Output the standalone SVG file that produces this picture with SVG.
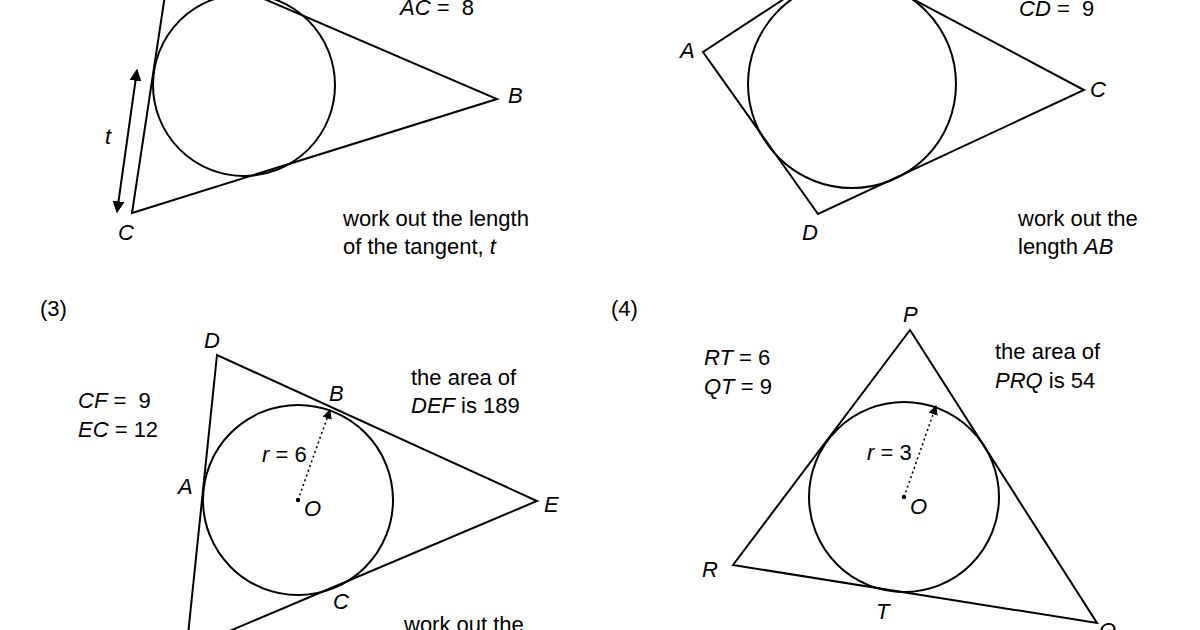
<svg xmlns="http://www.w3.org/2000/svg" width="1200" height="630" viewBox="0 0 1200 630">
<defs>
<marker id="ah" viewBox="0 0 10 10" refX="9" refY="5" markerWidth="6" markerHeight="6" orient="auto-start-reverse"><path d="M0,0 L10,5 L0,10 z" fill="#000"/></marker>
</defs>
<style>
.s{fill:none;stroke:#000;stroke-width:2}
text{font-family:"Liberation Sans",Arial,sans-serif;font-size:22px;fill:#000;white-space:pre}
.i{font-style:italic}
</style>
<rect width="1200" height="630" fill="#fff"/>
<g id="fig1">
<circle class="s" cx="244" cy="85" r="91"/>
<polyline class="s" points="165,-5 132,213 497,99 255,-5"/>
<line class="s" x1="117" y1="212" x2="137" y2="70" marker-start="url(#ah)" marker-end="url(#ah)" stroke-width="1.6"/>
<text x="105" y="144" class="i">t</text>
<text x="118" y="240" class="i">C</text>
<text x="508" y="103" class="i">B</text>
<text x="400" y="15"><tspan class="i">AC</tspan> =  8</text>
<text x="343" y="226">work out the length</text>
<text x="343" y="254">of the tangent, <tspan class="i">t</tspan></text>
</g>
<g id="fig2">
<ellipse class="s" cx="852" cy="84" rx="104" ry="104"/>
<polyline class="s" points="790,-5 703,52 818,214 1084,90 905,-5"/>
<text x="680" y="58" class="i">A</text>
<text x="1090" y="97" class="i">C</text>
<text x="802" y="240" class="i">D</text>
<text x="1019" y="16"><tspan class="i">CD</tspan> =  9</text>
<text x="1018" y="226">work out the</text>
<text x="1018" y="254">length <tspan class="i">AB</tspan></text>
</g>
<g id="fig3">
<text x="40" y="316">(3)</text>
<circle class="s" cx="298" cy="500" r="95"/>
<polyline class="s" points="188,635 217,355 537,501 220,635"/>
<line x1="298" y1="500" x2="330" y2="410" stroke="#000" stroke-width="1.6" stroke-dasharray="2,3" marker-end="url(#ah)"/>
<circle cx="298" cy="500" r="2.2"/>
<text x="304" y="516" class="i">O</text>
<text x="262" y="462"><tspan class="i">r</tspan> = 6</text>
<text x="329" y="401" class="i">B</text>
<text x="178" y="494" class="i">A</text>
<text x="333" y="609" class="i">C</text>
<text x="544" y="512" class="i">E</text>
<text x="204" y="348" class="i">D</text>
<text x="78" y="408"><tspan class="i">CF</tspan> =  9</text>
<text x="78" y="437"><tspan class="i">EC</tspan> = 12</text>
<text x="411" y="385">the area of</text>
<text x="411" y="413"><tspan class="i">DEF</tspan> is 189</text>
<text x="404" y="632">work out the</text>
</g>
<g id="fig4">
<text x="611" y="316">(4)</text>
<circle class="s" cx="904" cy="497" r="95"/>
<polygon class="s" points="910,330 733,565 1097,623"/>
<line x1="904" y1="497" x2="936" y2="406" stroke="#000" stroke-width="1.6" stroke-dasharray="2,3" marker-end="url(#ah)"/>
<circle cx="904" cy="497" r="2.2"/>
<text x="910" y="514" class="i">O</text>
<text x="867" y="460"><tspan class="i">r</tspan> = 3</text>
<text x="903" y="322" class="i">P</text>
<text x="702" y="577" class="i">R</text>
<text x="876" y="619" class="i">T</text>
<text x="1099" y="638" class="i">Q</text>
<text x="704" y="365"><tspan class="i">RT</tspan> = 6</text>
<text x="704" y="394"><tspan class="i">QT</tspan> = 9</text>
<text x="995" y="359">the area of</text>
<text x="995" y="388"><tspan class="i">PRQ</tspan> is 54</text>
</g>
</svg>
